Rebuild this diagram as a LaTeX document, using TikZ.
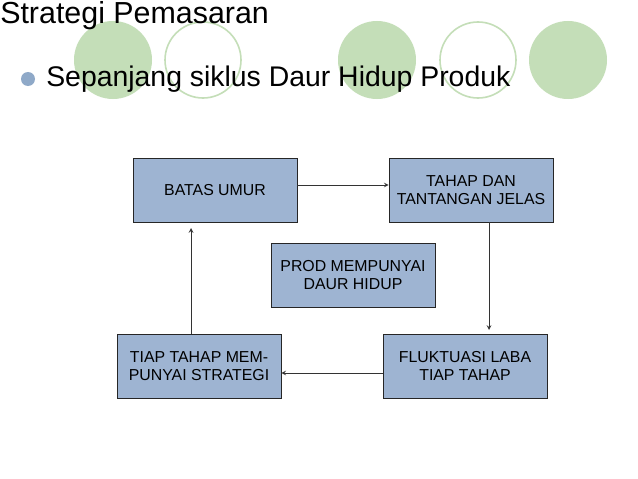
\documentclass[tikz,border=0pt]{standalone}
\usepackage{fontspec}
\setmainfont{Liberation Sans}
\begin{document}
\begin{tikzpicture}[x=0.75pt,y=-0.75pt,
  box/.style={draw=black!85,fill=boxblue,minimum width=123pt,minimum height=48pt,align=center,font=\fontsize{11.9pt}{14pt}\selectfont,inner sep=1pt},
  arr/.style={-stealth,black!80,line width=0.6pt}]
\definecolor{boxblue}{HTML}{9EB4D2}
\definecolor{lgreen}{HTML}{C4DEB8}
\definecolor{bul}{HTML}{8FA9C8}
\useasboundingbox (0,0) rectangle (638,478);
\fill[white] (0,0) rectangle (638,478);
\fill[lgreen] (113,60) circle (39);
\draw[lgreen,line width=1.2pt] (203,60) circle (38);
\fill[lgreen] (377,60) circle (39);
\draw[lgreen,line width=1.2pt] (478,60) circle (38);
\fill[lgreen] (568,60) circle (39);
\node[anchor=west,inner sep=0,font=\fontsize{22.8pt}{25pt}\selectfont] (title) at (0,16) {Strategi Pemasaran};
\fill[bul] (28,79) circle (7);
\node[anchor=west,inner sep=0,font=\fontsize{21.3pt}{24pt}\selectfont] (sub) at (46,79) {Sepanjang siklus Daur Hidup Produk};
\node[box] (a) at (215,190) {BATAS UMUR};
\node[box] (b) at (471,190) {TAHAP DAN\\TANTANGAN JELAS};
\node[box] (c) at (353,275) {PROD MEMPUNYAI\\DAUR HIDUP};
\node[box] (d) at (199,366) {TIAP TAHAP MEM-\\PUNYAI STRATEGI};
\node[box] (e) at (465,366) {FLUKTUASI LABA\\TIAP TAHAP};
\draw[arr] (a.east |- 0,185) -- (b.west |- 0,185);
\draw[arr] (b.south -| 489,0) -- (489,330);
\draw[arr] (e.west |- 0,373) -- (d.east |- 0,373);
\draw[arr] (d.north -| 191,0) -- (191,228);
\end{tikzpicture}
\end{document}
